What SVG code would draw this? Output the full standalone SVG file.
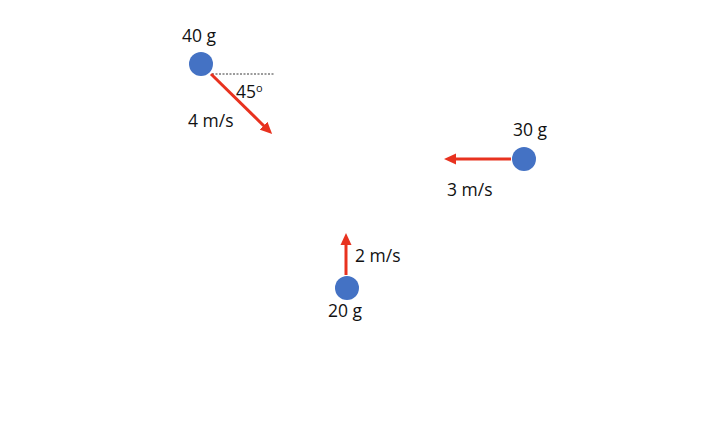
<svg xmlns="http://www.w3.org/2000/svg" width="726" height="438" viewBox="0 0 726 438">
<style>
.ball{fill:#4472C4;}
.vel{stroke:#E8321F;stroke-width:3;fill:none;}
.ref{stroke:#222;stroke-width:0.9;stroke-dasharray:2 1.5;fill:none;}
text{font-family:"Open Sans","Liberation Sans",sans-serif;font-size:17.5px;fill:#111;}
</style>
<defs>
<marker id="ah" markerUnits="userSpaceOnUse" markerWidth="12" markerHeight="12" viewBox="0 0 12 12" refX="2" refY="6" orient="auto">
<path d="M0,0.5 L12,6 L0,11.5 z" fill="#E8321F"/>
</marker>
</defs>
<rect width="726" height="438" fill="#ffffff"/>
<g id="connectors">
<line class="ref" x1="212" y1="74" x2="274" y2="74"/>
<line class="vel" x1="211" y1="74" x2="265" y2="127" marker-end="url(#ah)"/>
<line class="vel" x1="511" y1="159" x2="454" y2="159" marker-end="url(#ah)"/>
<line class="vel" x1="346" y1="275" x2="346" y2="243" marker-end="url(#ah)"/>
</g>
<g id="ball40">
<circle class="ball" cx="201" cy="64" r="12"/>
<text x="182" y="42">40 g</text>
<text x="236" y="98">45<tspan font-size="11" dy="-6">o</tspan></text>
<text x="188" y="127">4 m/s</text>
</g>
<g id="ball30">
<circle class="ball" cx="524" cy="159" r="12"/>
<text x="513" y="136">30 g</text>
<text x="447" y="196">3 m/s</text>
</g>
<g id="ball20">
<circle class="ball" cx="347" cy="288" r="12"/>
<text x="328" y="317">20 g</text>
<text x="355" y="262">2 m/s</text>
</g>
</svg>
